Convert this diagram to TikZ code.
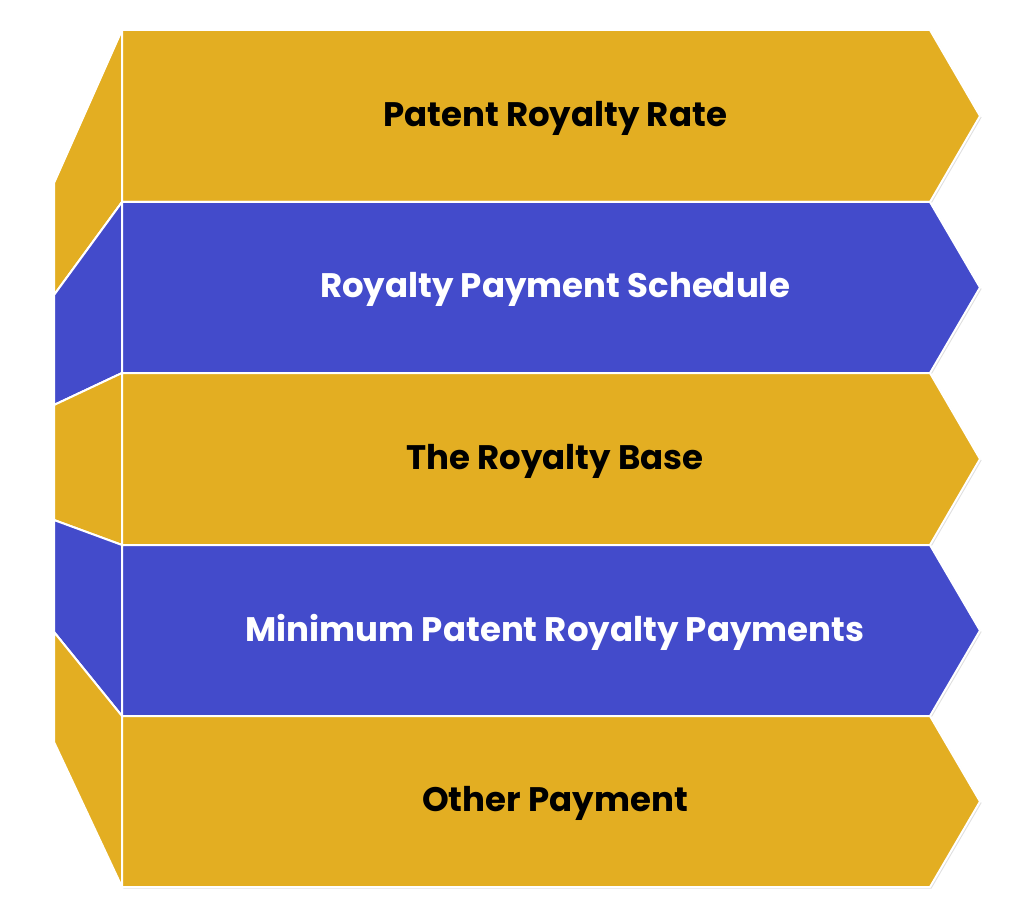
\documentclass[tikz,border=0pt]{standalone}
\usepackage{fontspec}
\setmainfont{Poppins}
\usetikzlibrary{shadows}
\definecolor{gold}{HTML}{E3AE22}
\definecolor{indigo}{HTML}{434BCB}
\begin{document}
\begin{tikzpicture}[
   x=1pt, y=-1pt,
   band/.style={draw=white, line width=2pt, line join=round,
      drop shadow={opacity=0.25, shadow xshift=1.5pt, shadow yshift=-1.5pt}},
   label/.style={font=\bfseries\fontsize{34}{40}\selectfont}
]
\useasboundingbox (0,0) rectangle (1034,920);

% side panels
\draw[band, fill=gold]   (122,30)  -- (54,183) -- (54,295) -- (122,202) -- cycle;
\draw[band, fill=indigo] (122,202) -- (54,295) -- (54,405) -- (122,373) -- cycle;
\draw[band, fill=gold]   (122,373) -- (54,405) -- (54,520) -- (122,545) -- cycle;
\draw[band, fill=indigo] (122,545) -- (54,520) -- (54,632) -- (122,716) -- cycle;
\draw[band, fill=gold]   (122,716) -- (54,632) -- (54,742) -- (122,887) -- cycle;

% arrow bands
\foreach \top/\bot/\col/\txt/\tcol in {
   30/202/gold/Patent Royalty Rate/black,
   202/373/indigo/Royalty Payment Schedule/white,
   373/545/gold/The Royalty Base/black,
   545/716/indigo/Minimum Patent Royalty Payments/white,
   716/887/gold/Other Payment/black} {
  \draw[band, fill=\col] (122,\top) -- (930,\top) -- (980,{(\top+\bot)/2})
     -- (930,\bot) -- (122,\bot) -- cycle;
  \node[label, text=\tcol] (b\top) at (555,{(\top+\bot)/2+2}) {\txt};
}
\end{tikzpicture}
\end{document}
